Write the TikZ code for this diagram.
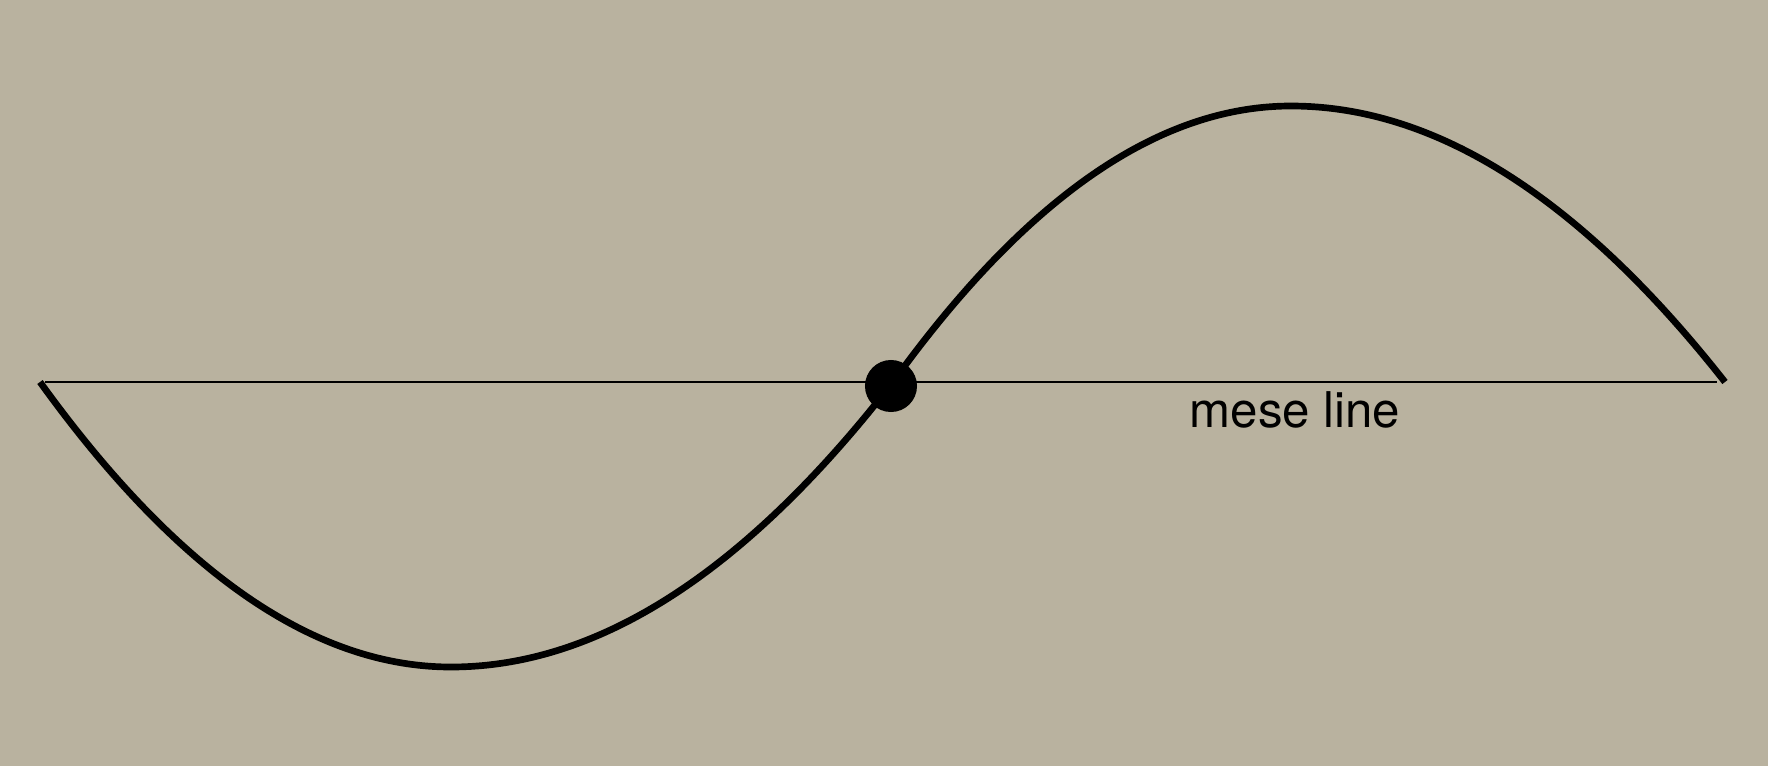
\documentclass[tikz,border=0pt]{standalone}
\usepackage{fontspec}
\setmainfont{TeX Gyre Heros}
\usepackage{xcolor}
\usetikzlibrary{calc}
\definecolor{paper}{RGB}{185,178,159}

\begin{document}
\begin{tikzpicture}[x=0.01cm,y=-0.01cm]
    \fill[paper] (0,0) rectangle (1768,766);
    \useasboundingbox (0,0) rectangle (1768,766);

    \coordinate (left) at (45,382);
    \coordinate (right) at (1717,382);
    \coordinate (start) at (40,382);
    \coordinate (low) at (451,667);
    \coordinate (mid) at (893,382);
    \coordinate (high) at (1291,106);
    \coordinate (end) at (1725,382);

    \coordinate (c1) at (245.5,667);
    \coordinate (c2) at (672,667);
    \coordinate (c3) at (1092,106);
    \coordinate (c4) at (1508,106);

    \draw[line width=0.6pt] (left) -- (right);
    \draw[line width=1.9pt]
      (start) .. controls ($(start)!2/3!(c1)$) and ($(low)!2/3!(c1)$) .. (low)
      .. controls ($(low)!2/3!(c2)$) and ($(mid)!2/3!(c2)$) .. (mid)
      .. controls ($(mid)!2/3!(c3)$) and ($(high)!2/3!(c3)$) .. (high)
      .. controls ($(high)!2/3!(c4)$) and ($(end)!2/3!(c4)$) .. (end);

    \node[circle,fill=black,minimum size=0.52cm,inner sep=0pt] (dot) at (891,386) {};
    \node[anchor=base,font=\fontsize{14}{16}\selectfont,inner sep=0pt] (mese) at (1295,427) {mese line};

  \end{tikzpicture}
\end{document}
